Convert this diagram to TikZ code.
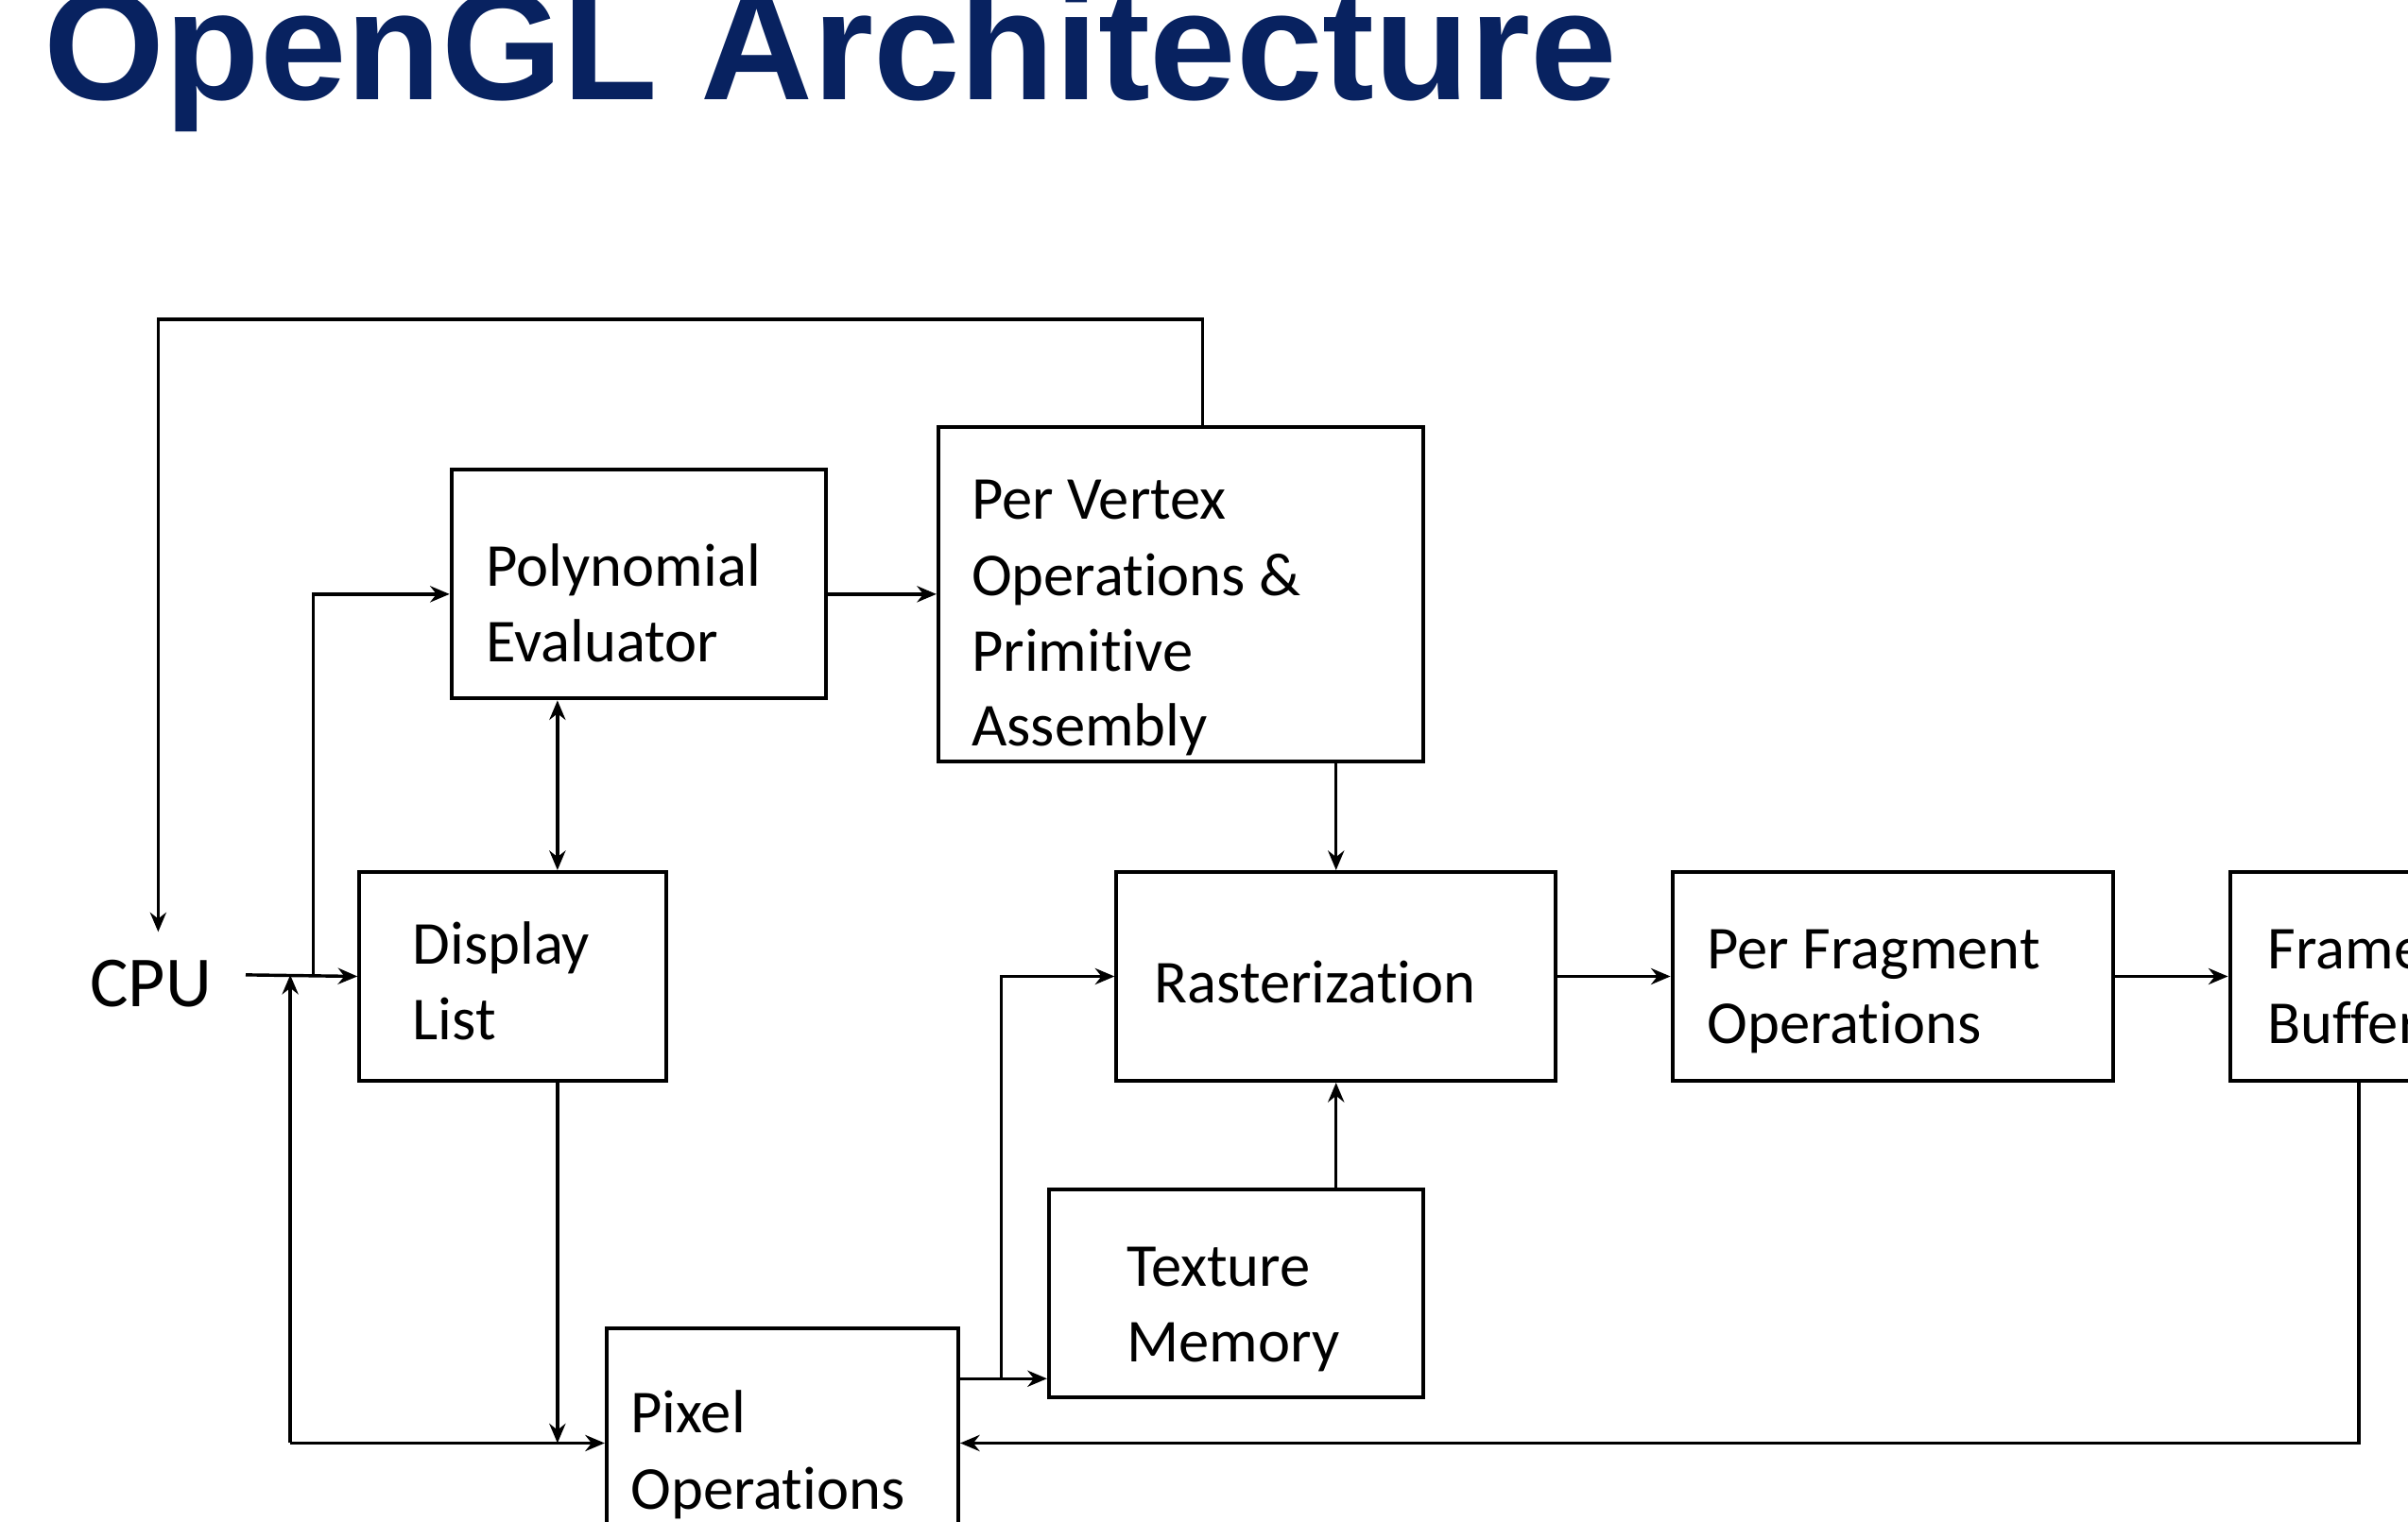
\documentclass[tikz,border=0pt]{standalone}
\usepackage{fontspec}
\setmainfont{Carlito}[Ligatures={NoCommon}]
\newfontfamily\titlefont{Liberation Sans}
\usetikzlibrary{arrows.meta}
\definecolor{titleblue}{RGB}{8,34,96}
\begin{document}
\begin{tikzpicture}[x=0.01cm,y=-0.01cm,
  box/.style={draw,line width=0.7pt,rectangle,inner sep=0pt},
  lbl/.style={anchor=base west,inner sep=0pt,font=\fontsize{11.3}{14}\selectfont},
  con/.style={line width=0.6pt},
  arr/.style={con,-{Stealth[length=3.6pt,width=3pt]}},
  darr/.style={con,{Stealth[length=3.6pt,width=3pt]}-{Stealth[length=3.6pt,width=3pt]}}]
\useasboundingbox (0,0) rectangle (1568,991);
\clip (0,0) rectangle (1568,991);
\node[anchor=base west,inner sep=0pt,text=titleblue,font=\titlefont\bfseries\fontsize{28.8}{32}\selectfont] (title) at (28,65) {OpenGL Architecture};
% boxes
\node[box,minimum width=244*0.01cm,minimum height=149*0.01cm] (poly) at (416,380.5) {};
\node[box,minimum width=316*0.01cm,minimum height=218*0.01cm] (vert) at (769,387) {};
\node[box,minimum width=200*0.01cm,minimum height=136*0.01cm] (disp) at (334,636) {};
\node[box,minimum width=286*0.01cm,minimum height=136*0.01cm] (rast) at (870,636) {};
\node[box,minimum width=287*0.01cm,minimum height=136*0.01cm] (frag) at (1232.5,636) {};
\node[box,minimum width=200*0.01cm,minimum height=136*0.01cm] (fb) at (1552,636) {};
\node[box,minimum width=244*0.01cm,minimum height=135*0.01cm] (tex) at (805,842.5) {};
\node[box,minimum width=229*0.01cm,minimum height=200*0.01cm] (pix) at (509.5,965) {};
% labels
\node[lbl] (cpu) at (58,656) {\fontsize{13.3}{16}\selectfont CPU};
\node[lbl] at (316,382) {Polynomial};
\node[lbl] at (316,431) {Evaluator};
\node[lbl] at (632,338) {Per Vertex};
\node[lbl] at (632,388) {Operations \&};
\node[lbl] at (632,437) {Primitive};
\node[lbl] at (632,486) {Assembly};
\node[lbl] at (268,628) {Display};
\node[lbl] at (268,677) {List};
\node[lbl] at (751,653) {Rasterization};
\node[lbl] at (1111,631) {Per Fragment};
\node[lbl] at (1111,680) {Operations};
\node[lbl] at (1476,631) {Frame};
\node[lbl] at (1476,680) {Buffer};
\node[lbl] at (733,838) {Texture};
\node[lbl] at (733,887) {Memory};
\node[lbl] at (410,933) {Pixel};
\node[lbl] at (410,983) {Operations};
% coordinates
\coordinate (cpuR) at (160,635);
\coordinate (br1) at (204,635);
\coordinate (br2) at (189,940);
\coordinate (br3) at (652,898);
\coordinate (pv) at (0,387);
% connectors
\draw[arr] (783,278) -- (783,208) -- (103,208) -- (103,607);
\draw[arr] (cpuR) -- (disp.west);
\draw[arr] (br1) |- (poly.west|-pv);
\draw[arr] (poly.east|-pv) -- (vert.west|-pv);
\draw[darr] (poly.south-|363,0) -- (disp.north-|363,0);
\draw[arr] (vert.south-|870,0) -- (rast.north);
\draw[arr] (disp.south-|363,0) -- (363,940);
\draw[arr] (br2) -- (189,635);
\draw[arr] (br2) -- (pix.west|-br2);
\draw[arr] (1536,704) -- (1536,940) -- (pix.east|-br2);
\draw[arr] (624,898) -- (tex.west|-br3);
\draw[arr] (br3) |- (rast.west);
\draw[arr] (tex.north-|870,0) -- (rast.south);
\draw[arr] (rast.east) -- (frag.west);
\draw[arr] (frag.east) -- (fb.west);
\end{tikzpicture}
\end{document}
